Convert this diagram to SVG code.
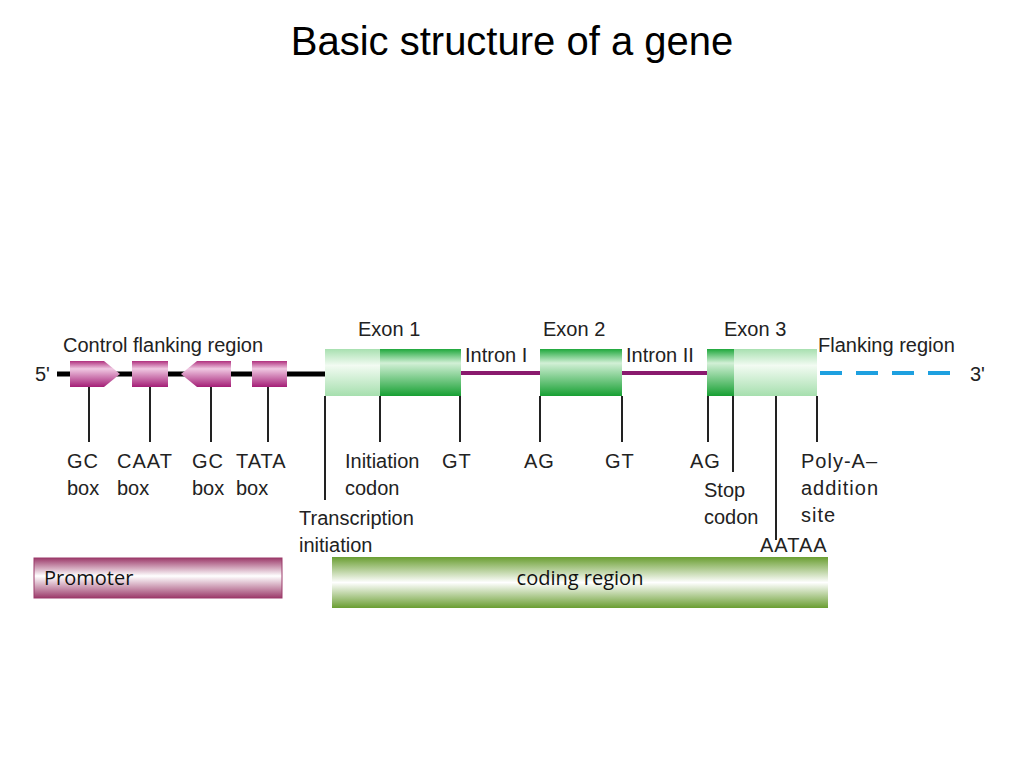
<svg xmlns="http://www.w3.org/2000/svg" width="1024" height="768" viewBox="0 0 1024 768">
<defs>
<linearGradient id="mag" x1="0" y1="0" x2="0" y2="1"><stop offset="0" stop-color="#b0307e"/><stop offset="0.3" stop-color="#f0c8e2"/><stop offset="1" stop-color="#a41e76"/></linearGradient>
<linearGradient id="dk" x1="0" y1="0" x2="0" y2="1"><stop offset="0" stop-color="#1fa83c"/><stop offset="0.3" stop-color="#d2f0d6"/><stop offset="1" stop-color="#17a033"/></linearGradient>
<linearGradient id="lt" x1="0" y1="0" x2="0" y2="1"><stop offset="0" stop-color="#a8e0b0"/><stop offset="0.35" stop-color="#f2fbf2"/><stop offset="1" stop-color="#a6dfae"/></linearGradient>
<linearGradient id="prom" x1="0" y1="0" x2="0" y2="1"><stop offset="0" stop-color="#9c3a6a"/><stop offset="0.45" stop-color="#ffffff"/><stop offset="1" stop-color="#9c3a6a"/></linearGradient>
<linearGradient id="cod" x1="0" y1="0" x2="0" y2="1"><stop offset="0" stop-color="#6a9e32"/><stop offset="0.5" stop-color="#ffffff"/><stop offset="1" stop-color="#6a9e32"/></linearGradient>
<style>
.t{font-family:"Liberation Sans",Arial,sans-serif;font-size:20px;fill:#222}
.c{font-family:"Open Sans","Liberation Sans",sans-serif;font-size:20px;fill:#111}
.l{stroke:#222;stroke-width:2;fill:none}
</style>
</defs>
<text x="512" y="55" text-anchor="middle" style="font-family:'Liberation Sans',Arial,sans-serif;font-size:40px;fill:#000">Basic structure of a gene</text>
<g id="backbone">
<line x1="57" y1="374" x2="326" y2="374" stroke="#000" stroke-width="5"/>
<line x1="461" y1="373" x2="541" y2="373" stroke="#8a1a6e" stroke-width="4"/>
<line x1="622" y1="373" x2="708" y2="373" stroke="#8a1a6e" stroke-width="4"/>
<line x1="820" y1="373" x2="962" y2="373" stroke="#1ea0e0" stroke-width="4" stroke-dasharray="22,14"/>
</g>
<g id="gc1"><polygon points="70,361 104,361 120,374 104,387 70,387" fill="url(#mag)"/></g>
<g id="caat"><rect x="132" y="361" width="36" height="26" fill="url(#mag)"/></g>
<g id="gc2"><polygon points="231,361 197,361 181,374 197,387 231,387" fill="url(#mag)"/></g>
<g id="tata"><rect x="252" y="361" width="35" height="26" fill="url(#mag)"/></g>
<g id="exon1"><rect x="325" y="349" width="56" height="47" fill="url(#lt)"/><rect x="380" y="349" width="81" height="47" fill="url(#dk)"/></g>
<g id="exon2"><rect x="540" y="349" width="82" height="47" fill="url(#dk)"/></g>
<g id="exon3"><rect x="707" y="349" width="27" height="47" fill="url(#dk)"/><rect x="734" y="349" width="83" height="47" fill="url(#lt)"/></g>
<g id="connectors">
<path class="l" d="M89 387V442M150 387V442M211 387V442M268 387V442M325 396V500M380 396V442M460 396V442M540 396V442M622 396V442M708 396V442M733 396V472M776 396V540M817 396V442"/>
</g>
<g id="labels">
<text class="t" x="35" y="381">5'</text>
<text class="t" x="970" y="381">3'</text>
<text class="t" x="63" y="352">Control flanking region</text>
<text class="t" x="358" y="336">Exon 1</text>
<text class="t" x="543" y="336">Exon 2</text>
<text class="t" x="724" y="336">Exon 3</text>
<text class="t" x="465" y="362">Intron I</text>
<text class="t" x="626" y="362">Intron II</text>
<text class="t" x="818" y="352">Flanking region</text>
<text class="t" x="67" y="468" style="letter-spacing:1px">GC</text><text class="t" x="67" y="495">box</text>
<text class="t" x="117" y="468" style="letter-spacing:1px">CAAT</text><text class="t" x="117" y="495">box</text>
<text class="t" x="192" y="468" style="letter-spacing:1px">GC</text><text class="t" x="192" y="495">box</text>
<text class="t" x="236" y="468" style="letter-spacing:1px">TATA</text><text class="t" x="236" y="495">box</text>
<text class="t" x="345" y="468">Initiation</text><text class="t" x="345" y="495">codon</text>
<text class="t" x="442" y="468" style="letter-spacing:1px">GT</text>
<text class="t" x="524" y="468" style="letter-spacing:1px">AG</text>
<text class="t" x="605" y="468" style="letter-spacing:1px">GT</text>
<text class="t" x="690" y="468" style="letter-spacing:1px">AG</text>
<text class="t" x="704" y="497">Stop</text><text class="t" x="704" y="524">codon</text>
<text class="t" x="801" y="468" style="letter-spacing:1px">Poly-A–</text>
<text class="t" x="801" y="495" style="letter-spacing:1px">addition</text>
<text class="t" x="801" y="522" style="letter-spacing:1px">site</text>
<text class="t" x="299" y="525">Transcription</text><text class="t" x="299" y="552">initiation</text>
<text class="t" x="760" y="552" style="letter-spacing:1px">AATAA</text>
</g>
<g id="promoter"><rect x="34" y="558" width="248" height="40" fill="url(#prom)" stroke="#9c3a6a"/><text class="c" x="44" y="585">Promoter</text></g>
<g id="coding"><rect x="332" y="557" width="496" height="51" fill="url(#cod)"/><text class="c" x="580" y="585" text-anchor="middle">coding region</text></g>
</svg>
